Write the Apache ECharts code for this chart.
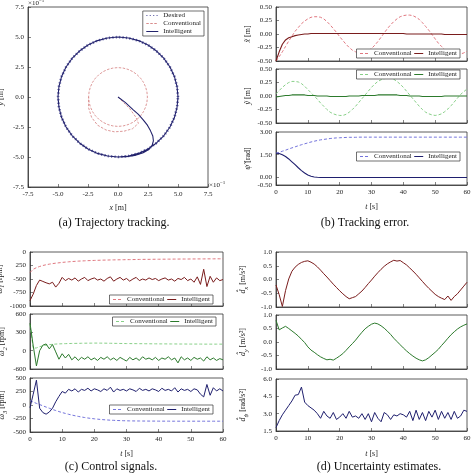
<!DOCTYPE html>
<html><head><meta charset="utf-8">
<script src="https://cdn.jsdelivr.net/npm/echarts@6/dist/echarts.min.js"></script>
<style>html,body{margin:0;padding:0;background:#fff}#c{width:474px;height:474px}</style>
</head><body><div id="c"></div>
<script>
// ---------- data ----------
const T = [0,1,2,3,4,5,6,7,8,9,10,11,12,13,14,15,16,17,18,19,20,21,22,23,24,25,26,27,28,29,30,31,32,33,34,35,36,37,38,39,40,41,42,43,44,45,46,47,48,49,50,51,52,53,54,55,56,57,58,59,60];

// (a) trajectory
const desX = [0.5,0.492,0.470,0.433,0.383,0.321,0.250,0.171,0.087,0,-0.087,-0.171,-0.250,-0.321,-0.383,-0.433,-0.470,-0.492,-0.5,-0.492,-0.470,-0.433,-0.383,-0.321,-0.250,-0.171,-0.087,0,0.087,0.171,0.250,0.321,0.383,0.433,0.470,0.492,0.5];
const desY = [0,0.087,0.171,0.250,0.321,0.383,0.433,0.470,0.492,0.5,0.492,0.470,0.433,0.383,0.321,0.250,0.171,0.087,0,-0.087,-0.171,-0.250,-0.321,-0.383,-0.433,-0.470,-0.492,-0.5,-0.492,-0.470,-0.433,-0.383,-0.321,-0.250,-0.171,-0.087,0];
const convTrajX = [0,0.05,0.1,0.15,0.17,0.12,0.05,-0.03,-0.1,-0.17,-0.22,-0.245,
  -0.245,-0.241,-0.230,-0.212,-0.188,-0.157,-0.1225,-0.084,-0.043,0,0.043,0.084,0.1225,0.157,0.188,0.212,0.230,0.241,0.245,0.241,0.230,0.212,0.188,0.157,0.1225,0.084,0.043,0,-0.043,-0.084,-0.1225,-0.157,-0.188,-0.212,-0.230,-0.241,-0.245];
const convTrajY = [0,-0.05,-0.1,-0.17,-0.22,-0.265,-0.285,-0.29,-0.275,-0.235,-0.17,-0.09,
  0,0.043,0.084,0.1225,0.157,0.188,0.212,0.230,0.241,0.245,0.241,0.230,0.212,0.188,0.157,0.1225,0.084,0.043,0,-0.043,-0.084,-0.1225,-0.157,-0.188,-0.212,-0.230,-0.241,-0.245,-0.241,-0.230,-0.212,-0.188,-0.157,-0.1225,-0.084,-0.043,0];
const intTrajX = [0,0.06,0.125,0.17,0.21,0.245,0.27,0.29,0.295,0.285,0.26,0.21,0.14,0.07,0,
  -0.087,-0.171,-0.250,-0.321,-0.383,-0.433,-0.470,-0.492,-0.500,-0.492,-0.470,-0.433,-0.383,-0.321,-0.250,-0.171,-0.087,0,0.087,0.171,0.250,0.321,0.383,0.433,0.470,0.492,0.500,0.492,0.470,0.433,0.383,0.321,0.250,0.171,0.087,0];
const intTrajY = [0,-0.045,-0.105,-0.145,-0.19,-0.235,-0.28,-0.325,-0.365,-0.4,-0.435,-0.465,-0.488,-0.497,-0.5,
  -0.492,-0.470,-0.433,-0.383,-0.321,-0.250,-0.171,-0.087,0,0.087,0.171,0.250,0.321,0.383,0.433,0.470,0.492,0.5,0.492,0.470,0.433,0.383,0.321,0.250,0.171,0.087,0,-0.087,-0.171,-0.250,-0.321,-0.383,-0.433,-0.470,-0.492,-0.5];

// (b) tracking error
const exConv = [-0.50,-0.42,-0.33,-0.23,-0.13,-0.04,0.05,0.12,0.19,0.24,0.28,0.31,0.32,0.32,0.31,0.28,0.23,0.17,0.10,0.03,-0.05,-0.12,-0.19,-0.25,-0.30,-0.33,-0.35,-0.35,-0.34,-0.31,-0.27,-0.21,-0.14,-0.06,0.02,0.10,0.17,0.23,0.28,0.32,0.34,0.35,0.35,0.34,0.31,0.27,0.21,0.14,0.07,-0.01,-0.09,-0.17,-0.23,-0.29,-0.33,-0.36,-0.38,-0.38,-0.37,-0.35,-0.32];
const exInt = [-0.50,-0.33,-0.19,-0.11,-0.07,-0.05,-0.03,-0.02,-0.01,0.00,0.00,0.01,0.01,0.01,0.01,0.01,0.01,0.01,0.01,0.01,0.01,0.01,0.01,0.01,0.01,0.01,0.01,0.01,0.01,0.01,0.01,0.01,0.01,0.01,0.01,0.01,0.01,0.01,0.01,0.01,0.01,0.00,0.00,0.00,0.00,0.00,0.00,0.00,0.00,0.00,0.00,0.00,0.00,-0.01,-0.01,-0.01,-0.01,-0.01,-0.01,-0.01,-0.01];
const eyConv = [0.04,0.10,0.16,0.21,0.25,0.27,0.27,0.26,0.23,0.18,0.12,0.06,0.00,-0.06,-0.13,-0.19,-0.25,-0.30,-0.33,-0.35,-0.36,-0.36,-0.34,-0.30,-0.25,-0.19,-0.12,-0.05,0.02,0.09,0.16,0.22,0.27,0.30,0.32,0.33,0.33,0.31,0.27,0.22,0.16,0.09,0.02,-0.05,-0.12,-0.19,-0.25,-0.30,-0.33,-0.35,-0.36,-0.35,-0.33,-0.29,-0.24,-0.18,-0.11,-0.04,0.03,0.08,0.13];
const eyInt = [-0.02,-0.01,0.00,0.01,0.01,0.02,0.02,0.02,0.02,0.02,0.01,0.01,0.01,0.00,0.00,0.00,0.00,-0.01,-0.01,-0.01,-0.01,-0.01,-0.01,0.00,0.00,0.00,0.00,0.01,0.01,0.01,0.01,0.01,0.02,0.02,0.02,0.02,0.02,0.02,0.02,0.01,0.01,0.01,0.00,0.00,0.00,0.00,-0.01,-0.01,-0.01,-0.01,-0.01,-0.01,-0.01,0.00,0.00,0.00,0.00,0.00,0.00,0.00,0.00];
const epsiConv = [1.60,1.66,1.73,1.80,1.88,1.95,2.02,2.09,2.16,2.22,2.28,2.34,2.39,2.44,2.48,2.51,2.54,2.57,2.59,2.61,2.62,2.63,2.64,2.65,2.65,2.65,2.66,2.66,2.66,2.66,2.66,2.66,2.66,2.66,2.66,2.66,2.66,2.66,2.66,2.66,2.66,2.66,2.66,2.66,2.66,2.66,2.66,2.66,2.66,2.66,2.66,2.66,2.66,2.66,2.66,2.66,2.66,2.66,2.66,2.66,2.66];
const epsiInt = [1.60,1.58,1.50,1.38,1.22,1.03,0.84,0.64,0.45,0.29,0.16,0.08,0.03,0.01,0,0,0,0,0,0,0,0,0,0,0,0,0,0,0,0,0,0,0,0,0,0,0,0,0,0,0,0,0,0,0,0,0,0,0,0,0,0,0,0,0,0,0,0,0,0,0];

// (c) control signals [rpm]
const w1Conv = [-380,-320,-290,-268,-250,-236,-225,-215,-207,-200,-193,-187,-182,-177,-173,-169,-166,-163,-160,-158,-156,-154,-152,-150,-149,-147,-146,-145,-144,-143,-142,-141,-140,-139,-138,-137,-136,-136,-135,-134,-134,-133,-133,-132,-132,-131,-131,-130,-130,-130,-129,-129,-128,-128,-128,-127,-127,-127,-126,-126,-126];
const w1Int = [-900,-780,-620,-520,-545,-570,-590,-560,-650,-580,-470,-530,-490,-520,-480,-540,-500,-470,-530,-500,-480,-520,-500,-540,-490,-460,-540,-500,-470,-520,-490,-540,-500,-470,-530,-500,-520,-480,-510,-490,-530,-500,-480,-520,-500,-540,-490,-510,-470,-530,-500,-560,-460,-600,-320,-640,-450,-560,-480,-530,-510];
const w2Conv = [420,40,45,65,80,90,98,104,108,111,113,115,117,118,119,120,121,122,123,123,124,124,123,123,122,121,120,119,118,117,116,116,115,115,114,114,113,113,112,112,111,111,111,110,110,110,109,109,109,108,108,108,108,108,107,107,107,107,107,107,107];
const w2Int = [450,80,-250,0,90,110,30,100,-20,-140,-50,-120,-60,-150,-100,-160,-110,-140,-100,-150,-120,-160,-110,-140,-100,-150,-120,-160,-110,-140,-170,-110,-150,-120,-160,-100,-140,-120,-150,-110,-160,-120,-140,-100,-150,-120,-200,-100,-150,-120,-160,-110,-140,-120,-170,-100,-150,-120,-160,-130,-150];
const w3Conv = [80,55,30,8,-15,-38,-60,-82,-102,-122,-140,-156,-172,-186,-199,-211,-222,-232,-241,-249,-256,-262,-268,-273,-277,-281,-284,-287,-289,-291,-293,-294,-295,-296,-296,-297,-297,-298,-298,-298,-299,-299,-299,-299,-300,-300,-300,-300,-300,-300,-300,-300,-300,-300,-300,-300,-300,-300,-300,-300,-300];
const w3Int = [-50,200,460,-60,-140,-170,-130,-60,60,160,250,220,290,260,300,240,290,270,310,260,300,280,250,300,270,330,240,300,270,290,260,300,280,250,310,270,290,260,300,280,250,310,270,290,260,320,240,300,270,290,250,300,280,200,150,380,180,320,260,300,260];

// (d) uncertainty estimates
const dX = [-0.20,-0.55,-0.98,-0.40,0.02,0.30,0.45,0.55,0.62,0.66,0.68,0.63,0.56,0.46,0.34,0.21,0.09,-0.04,-0.17,-0.29,-0.41,-0.52,-0.62,-0.70,-0.66,-0.62,-0.52,-0.42,-0.29,-0.15,-0.02,0.12,0.25,0.37,0.48,0.57,0.64,0.70,0.67,0.69,0.61,0.53,0.42,0.31,0.19,0.06,-0.07,-0.20,-0.32,-0.43,-0.54,-0.62,-0.68,-0.73,-0.60,-0.76,-0.62,-0.52,-0.38,-0.24,-0.10];
const dY = [0.80,0.45,0.52,0.58,0.50,0.41,0.32,0.22,0.10,-0.02,-0.18,-0.30,-0.38,-0.47,-0.55,-0.61,-0.66,-0.64,-0.67,-0.60,-0.52,-0.43,-0.31,-0.18,-0.06,0.07,0.22,0.36,0.49,0.58,0.66,0.70,0.67,0.60,0.51,0.40,0.28,0.14,0.02,-0.10,-0.22,-0.33,-0.43,-0.52,-0.60,-0.66,-0.70,-0.66,-0.58,-0.48,-0.38,-0.27,-0.13,0.00,0.14,0.27,0.38,0.48,0.56,0.62,0.67];
const dPsi = [1.80,2.40,2.90,3.30,3.70,4.10,4.60,4.65,5.30,4.00,3.70,3.50,3.30,3.00,2.60,3.20,2.80,2.60,3.10,2.50,2.70,3.00,2.60,3.20,2.70,2.80,2.60,3.00,2.50,3.00,2.30,3.10,2.60,2.30,3.10,2.90,2.50,2.90,2.80,3.00,2.90,2.70,3.20,2.40,3.30,2.50,3.10,2.40,3.20,2.70,3.30,2.50,3.20,2.60,3.10,2.50,3.20,2.60,2.80,3.30,3.20];

// tick labels
const trajTicks = ['-7.5','-5.0','-2.5','0.0','2.5','5.0','7.5'];
const psiTicks = [-0.5, 0, 1.5, 3.0];

// ---------- build ----------
const F = 'Liberation Serif';
const INK = '#222';
const COL = {redC:'#e07880', redI:'#7a1c1c', greenC:'#88d088', greenI:'#2c7a2c', blueC:'#7474dc', blueI:'#1f1f6e', des:'#6868aa', trajC:'#d98c8c', trajI:'#23236c'};
const grids=[], xAxis=[], yAxis=[], series=[], legend=[];

const nameStyle = {fontFamily:F, fontSize:8, color:INK, lineHeight:12,
  rich:{ i:{fontFamily:F,fontStyle:'italic',fontSize:8,color:INK,lineHeight:12},
         s:{fontFamily:F,fontStyle:'italic',fontSize:6,color:INK,lineHeight:6,verticalAlign:'bottom'} }};

function grid(l,t,w,h){ grids.push({left:l,top:t,width:w,height:h,show:true,borderColor:'#333',borderWidth:0.8,backgroundColor:'rgba(0,0,0,0)',containLabel:false,outerBoundsMode:'none'}); return grids.length-1; }
function axis(g,c){
  const a = {gridIndex:g, type:'value', min:c.min, max:c.max,
    axisLine:{show:true,onZero:false,lineStyle:{color:'#333',width:0.8}},
    axisTick:{show:true,inside:true,length:3,lineStyle:{color:'#333',width:0.6}},
    splitLine:{show:false},
    axisLabel:{show:c.labels!==false,fontFamily:F,fontSize:7,color:INK,margin:c.margin||4,formatter:c.fmt},
    name:c.name||'', nameLocation:'middle', nameGap:c.nameGap||15, nameTextStyle:nameStyle};
  if (c.interval!==undefined) a.interval = c.interval;
  if (c.custom){ a.axisLabel.customValues=c.custom; a.axisTick.customValues=c.custom; }
  return a;
}
function line(g,name,xs,ys,color,dash,width,z){
  series.push({type:'line',name,xAxisIndex:g,yAxisIndex:g,data:xs.map((x,i)=>[x,ys[i]]),
    symbol:'none',showSymbol:false,silent:true,animation:false,z:z||2,
    lineStyle:{color,width:width||1,type:dash||'solid'},itemStyle:{color}});
}
function leg(names,pos,orient){
  legend.push(Object.assign({data:names,orient:orient||'horizontal',itemWidth:9,itemHeight:6,itemGap:2,
    padding:[1,3],borderColor:'#333',borderWidth:0.7,backgroundColor:'#fff',selectedMode:false,z:10,
    itemStyle:{color:'rgba(0,0,0,0)',borderWidth:0,opacity:0},
    lineStyle:{width:1},
    textStyle:{fontFamily:F,fontSize:7,color:INK},formatter:n=>n.split('#')[0]},pos));
}
const DASH=[3,2];

// (a)
let g = grid(28,7,180,180);
xAxis.push(axis(g,{min:-0.75,max:0.75,interval:0.25,fmt:v=>trajTicks[Math.round((v+0.75)/0.25)],name:'{i|x} [m]',nameGap:15}));
yAxis.push(axis(g,{min:-0.75,max:0.75,interval:0.25,fmt:v=>trajTicks[Math.round((v+0.75)/0.25)],name:'{i|y} [m]',nameGap:21}));
line(g,'Desired#a',desX,desY,COL.des,[1.2,2.2],2.6,2);
line(g,'Conventional#a',convTrajX,convTrajY,COL.trajC,[2.5,1.5],0.9,3);
line(g,'Intelligent#a',intTrajX,intTrajY,COL.trajI,'solid',1.1,4);
leg(['Desired#a','Conventional#a','Intelligent#a'],{right:270,top:11,itemGap:1,itemWidth:12,padding:[1,3]},'vertical');

// (b)
const bBox=[[7,54],[69,54],[132,53]];
const bY=[
  {min:-0.5,max:0.5,interval:0.25,fmt:v=>v.toFixed(2),name:'{i|x\u0303} [m]'},
  {min:-0.5,max:0.5,interval:0.25,fmt:v=>v.toFixed(2),name:'{i|y\u0303} [m]'},
  {min:-0.5,max:3,fmt:v=>v.toFixed(2),custom:psiTicks,name:'{i|\u03c8\u0303} [rad]'}];
const bS=[[exConv,exInt,COL.redC,COL.redI],[eyConv,eyInt,COL.greenC,COL.greenI],[epsiConv,epsiInt,COL.blueC,COL.blueI]];
const bLeg=[49,70,152];
for(let k=0;k<3;k++){
  g=grid(276,bBox[k][0],191,bBox[k][1]);
  const bottom=k===2;
  xAxis.push(axis(g,{min:0,max:60,interval:10,labels:bottom,fmt:v=>String(v),name:bottom?'{i|t} [s]':'',nameGap:16}));
  yAxis.push(axis(g,Object.assign({nameGap:22},bY[k])));
  line(g,'Conventional#b'+k,T,bS[k][0],bS[k][2],DASH,1,2);
  line(g,'Intelligent#b'+k,T,bS[k][1],bS[k][3],'solid',1.1,3);
  leg(['Conventional#b'+k,'Intelligent#b'+k],{right:14,top:bLeg[k]});
}

// (c)
const cBox=[[252,54],[314,55],[378,54]];
const cY=[
  {min:-1000,max:0,interval:250,fmt:v=>v===-250?'250':String(v),name:'{i|\u03c9}{s|1} [rpm]'},
  {min:-300,max:600,interval:300,fmt:v=>v===-300?'-600':String(v),name:'{i|\u03c9}{s|2} [rpm]'},
  {min:-500,max:500,interval:250,fmt:v=>String(v),name:'{i|\u03c9}{s|3} [rpm]'}];
const cS=[[w1Conv,w1Int,COL.redC,COL.redI],[w2Conv,w2Int,COL.greenC,COL.greenI],[w3Conv,w3Int,COL.blueC,COL.blueI]];
const cLeg=[[261,295],[258,317],[261,405]];
for(let k=0;k<3;k++){
  g=grid(30,cBox[k][0],193,cBox[k][1]);
  const bottom=k===2;
  xAxis.push(axis(g,{min:0,max:60,interval:10,labels:bottom,fmt:v=>String(v),name:bottom?'{i|t} [s]':'',nameGap:16}));
  yAxis.push(axis(g,Object.assign({nameGap:22},cY[k])));
  line(g,'Conventional#c'+k,T,cS[k][0],cS[k][2],DASH,1,2);
  line(g,'Intelligent#c'+k,T,cS[k][1],cS[k][3],'solid',1,3);
  leg(['Conventional#c'+k,'Intelligent#c'+k],{right:cLeg[k][0],top:cLeg[k][1]});
}

// (d)
const dBox=[[252,55],[315,54],[379,52]];
const dYax=[
  {min:-1,max:1,interval:0.5,fmt:v=>v.toFixed(1),name:'{i|d\u0302}{s|x} [m/s\u00b2]'},
  {min:-1,max:1,interval:0.5,fmt:v=>v.toFixed(1),name:'{i|d\u0302}{s|y} [m/s\u00b2]'},
  {min:1.5,max:6,interval:1.5,fmt:v=>v.toFixed(1),name:'{i|d\u0302}{s|\u03c8} [rad/s\u00b2]'}];
const dS=[[dX,COL.redI],[dY,COL.greenI],[dPsi,COL.blueI]];
for(let k=0;k<3;k++){
  g=grid(276,dBox[k][0],191,dBox[k][1]);
  const bottom=k===2;
  xAxis.push(axis(g,{min:0,max:60,interval:10,labels:bottom,fmt:v=>String(v),name:bottom?'{i|t} [s]':'',nameGap:17}));
  yAxis.push(axis(g,Object.assign({nameGap:27},dYax[k])));
  line(g,'Estimate#d'+k,T,dS[k][0],dS[k][1],'solid',1,3);
}

const capStyle={fontFamily:F,fontSize:12,fill:'#111',align:'center',verticalAlign:'middle'};
const expStyle={fontFamily:F,fontSize:7,fill:INK,align:'left',verticalAlign:'middle',lineHeight:9,
  rich:{e:{fontFamily:F,fontSize:5,fill:INK,lineHeight:5,verticalAlign:'top'}}};
const option={
  animation:false, backgroundColor:'#fff', textStyle:{fontFamily:F},
  grid:grids, xAxis, yAxis, series, legend,
  graphic:[
    {type:'text',x:28,y:3,style:Object.assign({text:'\u00d710{e|\u22121}'},expStyle)},
    {type:'text',x:209,y:185,style:Object.assign({text:'\u00d710{e|\u22121}'},expStyle)},
    {type:'text',x:114,y:223,style:Object.assign({text:'(a) Trajectory tracking.'},capStyle)},
    {type:'text',x:365,y:223,style:Object.assign({text:'(b) Tracking error.'},capStyle)},
    {type:'text',x:111,y:467,style:Object.assign({text:'(c) Control signals.'},capStyle)},
    {type:'text',x:379,y:467,style:Object.assign({text:'(d) Uncertainty estimates.'},capStyle)}
  ]
};
const chart=echarts.init(document.getElementById('c'),null,{renderer:'canvas'});
chart.setOption(option);
</script></body></html>
